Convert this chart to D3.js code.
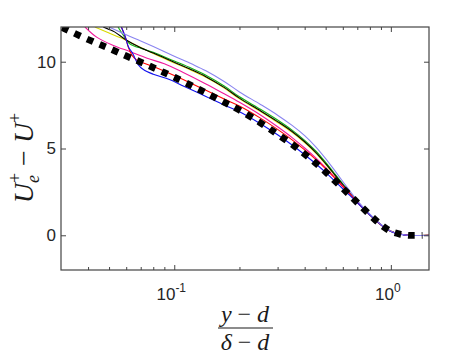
<!DOCTYPE html>
<html><head><meta charset="utf-8">
<script src="https://cdn.jsdelivr.net/npm/d3@7"></script>
<style>body{margin:0;background:#fff}</style>
</head><body>
<svg id="c" width="474" height="355"></svg>
<script>
// Reference (thick dashed) profile
const refX = [0.03,0.04,0.05,0.06,0.07,0.08,0.09,0.1,0.12,0.14,0.17,0.2,0.25,0.3,0.35,0.4,0.45,0.5,0.55,0.6,0.65,0.7,0.8,0.9,1.0,1.1,1.2,1.4];
const refY = [12.0,11.28,10.77,10.33,9.98,9.66,9.37,9.11,8.62,8.21,7.66,7.21,6.48,5.82,5.24,4.68,4.16,3.65,3.15,2.70,2.28,1.88,1.18,0.61,0.23,0.07,0.0,0.0];

const lightBlueX = [0.05,0.06,0.07,0.08,0.1,0.12,0.14,0.17,0.2,0.25,0.3,0.35,0.4,0.45,0.5,0.55,0.6,0.65,0.7,0.8,0.9,1.0,1.1,1.2,1.5];
const lightBlueY = [12.0,11.55,11.2,10.88,10.32,9.88,9.48,8.86,8.26,7.54,6.92,6.33,5.74,5.1,4.42,3.74,3.1,2.52,2.0,1.22,0.63,0.24,0.07,0.0,0.0];

const greenX = [0.055,0.058,0.062,0.066,0.07,0.08,0.1,0.12,0.14,0.17,0.2,0.25,0.3,0.35,0.4,0.45,0.5,0.55,0.6,0.65,0.7,0.8,0.9,1.0,1.1,1.2,1.5];
const greenY = [12.0,11.55,11.05,10.88,10.78,10.55,10.04,9.62,9.22,8.6,7.98,7.26,6.64,6.06,5.47,4.86,4.2,3.56,2.96,2.42,1.94,1.19,0.62,0.23,0.07,0.0,0.0];

const blackX = [0.047,0.05,0.053,0.06,0.07,0.08,0.1,0.12,0.14,0.17,0.2,0.25,0.3,0.35,0.4,0.45,0.5,0.55,0.6,0.65,0.7,0.8,0.9,1.0,1.1,1.2,1.5];
const blackY = [12.0,11.86,11.72,11.25,10.8,10.5,9.97,9.54,9.14,8.52,7.9,7.17,6.55,5.98,5.39,4.78,4.13,3.5,2.91,2.39,1.92,1.18,0.61,0.23,0.07,0.0,0.0];

const yellowX = [0.043,0.05,0.057,0.065,0.08,0.1,0.12,0.14,0.17,0.2,0.25,0.3,0.35,0.4,0.45,0.5,0.55,0.6,0.65,0.7,0.8,0.9,1.0,1.1,1.2,1.5];
const yellowY = [12.0,11.65,11.36,11.02,10.47,9.93,9.5,9.1,8.48,7.86,7.13,6.5,5.93,5.34,4.74,4.09,3.47,2.88,2.37,1.91,1.18,0.61,0.23,0.07,0.0,0.0];

const magentaX = [0.0387,0.044,0.052,0.0625,0.075,0.09,0.11,0.14,0.17,0.2,0.25,0.3,0.35,0.4,0.45,0.5,0.55,0.6,0.65,0.7,0.8,0.9,1.0,1.1,1.2,1.5];
const magentaY = [12.0,11.4,10.95,10.58,10.2,9.88,9.38,8.72,8.15,7.66,6.93,6.25,5.63,5.03,4.46,3.9,3.35,2.84,2.37,1.92,1.19,0.61,0.23,0.07,0.0,0.0];

const redX = [0.057,0.0595,0.0615,0.064,0.067,0.07,0.08,0.1,0.12,0.14,0.17,0.2,0.25,0.3,0.35,0.4,0.45,0.5,0.55,0.6,0.65,0.7,0.8,0.9,1.0,1.1,1.2,1.5];
const redY = [12.0,11.4,10.8,10.35,10.1,9.99,9.72,9.2,8.75,8.35,7.85,7.45,6.75,6.1,5.5,4.92,4.37,3.83,3.3,2.8,2.34,1.9,1.18,0.61,0.23,0.07,0.0,0.0];

const blueX = [0.057,0.0595,0.0615,0.0645,0.068,0.072,0.08,0.095,0.11,0.14,0.17,0.2,0.25,0.3,0.35,0.4,0.45,0.5,0.55,0.6,0.65,0.7,0.8,0.9,1.0,1.1,1.2,1.5];
const blueY = [12.0,11.42,10.85,10.45,9.85,9.55,9.28,8.97,8.6,8.0,7.5,7.12,6.43,5.79,5.2,4.64,4.12,3.62,3.13,2.68,2.27,1.87,1.17,0.6,0.22,0.06,0.0,0.0];

const xMajor = [0.1, 1];
const xMajorExp = ["-1", "0"];
const xMinor = [0.04,0.05,0.06,0.07,0.08,0.09,0.2,0.3,0.4,0.5,0.6,0.7,0.8,0.9];
const yTicks = [0, 5, 10];

const L = 61, R = 429, T = 27, B = 270;
const x = d3.scaleLog().domain([0.03, 1.5]).range([L, R]);
const y = d3.scaleLinear().domain([-2, 12]).range([B, T]);
const svg = d3.select("#c");
svg.append("rect").attr("width", 474).attr("height", 355).attr("fill", "#fff");

svg.append("clipPath").attr("id", "clip").append("rect")
  .attr("x", L).attr("y", T).attr("width", R - L).attr("height", B - T);

const lineThin = d3.line().x(d => x(d[0])).y(d => y(d[1])).curve(d3.curveCatmullRom.alpha(0.5));
const lineRef = d3.line().x(d => x(d[0])).y(d => y(d[1])).curve(d3.curveCatmullRom.alpha(0.5));
const zip = (a, b) => a.map((v, i) => [v, b[i]]);

const series = [
  {xs: yellowX, ys: yellowY, c: "#d9d900"},
  {xs: greenX, ys: greenY, c: "#11b511"},
  {xs: blackX, ys: blackY, c: "#000000"},
  {xs: magentaX, ys: magentaY, c: "#f0189c"},
  {xs: redX, ys: redY, c: "#ff0000"},
  {xs: blueX, ys: blueY, c: "#1010ee"},
  {xs: lightBlueX, ys: lightBlueY, c: "#8a84f0"}
];
const g = svg.append("g").attr("clip-path", "url(#clip)");
series.forEach(s => {
  g.append("path").attr("d", lineThin(zip(s.xs, s.ys)))
    .attr("fill", "none").attr("stroke", s.c).attr("stroke-width", 1.1);
});
g.append("path").attr("d", lineRef(zip(refX, refY)))
  .attr("fill", "none").attr("stroke", "#000").attr("stroke-width", 6.8)
  .attr("stroke-dasharray", "6.6,7.0").attr("stroke-dashoffset", 12.3);

// axes
const axCol = "#444";
function style(sel) {
  sel.select(".domain").remove();
  sel.selectAll("line").attr("stroke", axCol).attr("stroke-width", 1);
}
svg.append("g").attr("transform", `translate(0,${B})`)
  .call(d3.axisBottom(x).tickValues(xMajor).tickSize(-5).tickFormat("")).call(style);
svg.append("g").attr("transform", `translate(0,${B})`)
  .call(d3.axisBottom(x).tickValues(xMinor).tickSize(-3).tickFormat("")).call(style);
svg.append("g").attr("transform", `translate(0,${T})`)
  .call(d3.axisTop(x).tickValues(xMajor).tickSize(-5).tickFormat("")).call(style);
svg.append("g").attr("transform", `translate(0,${T})`)
  .call(d3.axisTop(x).tickValues(xMinor).tickSize(-3).tickFormat("")).call(style);
const yl = svg.append("g").attr("transform", `translate(${L},0)`)
  .call(d3.axisLeft(y).tickValues(yTicks).tickSize(-5).tickPadding(5).tickFormat(d3.format("d")));
yl.call(style);
yl.selectAll("text").attr("font-family", "Liberation Sans, Arial, sans-serif")
  .attr("font-size", 17).attr("fill", "#262626");
svg.append("g").attr("transform", `translate(${R},0)`)
  .call(d3.axisRight(y).tickValues(yTicks).tickSize(-5).tickFormat("")).call(style);

svg.append("rect").attr("x", L).attr("y", T).attr("width", R - L).attr("height", B - T)
  .attr("fill", "none").attr("stroke", axCol).attr("stroke-width", 1.2);

// x tick labels with superscripts
xMajor.forEach((v, i) => {
  const t = svg.append("text").attr("x", x(v) - 3).attr("y", 300)
    .attr("text-anchor", "middle").attr("font-family", "Liberation Sans, Arial, sans-serif")
    .attr("font-size", 17).attr("fill", "#262626");
  t.append("tspan").text("10");
  t.append("tspan").attr("dy", -8).attr("font-size", 12).text(xMajorExp[i]);
});

// y axis label
const ylab = svg.append("text").attr("transform", "translate(33,158) rotate(-90)")
  .attr("text-anchor", "middle").attr("font-family", "Liberation Serif, Times New Roman, serif")
  .attr("font-size", 28).attr("fill", "#1a1a1a");
ylab.append("tspan").attr("font-style", "italic").text("U");
ylab.append("tspan").attr("font-size", 18).attr("dy", -12).text("+");
ylab.append("tspan").attr("font-size", 18).attr("font-style", "italic").attr("dx", -10).attr("dy", 18).text("e");
ylab.append("tspan").attr("dy", -6).attr("dx", 2).text(" \u2212 ");
ylab.append("tspan").attr("font-style", "italic").text("U");
ylab.append("tspan").attr("font-size", 18).attr("dy", -12).text("+");

// x axis label (fraction)
const fx = 245;
const num = svg.append("text").attr("x", fx).attr("y", 322).attr("text-anchor", "middle")
  .attr("font-family", "Liberation Serif, Times New Roman, serif").attr("font-size", 24).attr("fill", "#1a1a1a");
num.append("tspan").attr("font-style", "italic").text("y");
num.append("tspan").text(" \u2212 ");
num.append("tspan").attr("font-style", "italic").text("d");
svg.append("line").attr("x1", 218).attr("x2", 273).attr("y1", 328).attr("y2", 328)
  .attr("stroke", "#1a1a1a").attr("stroke-width", 1.2);
const den = svg.append("text").attr("x", fx).attr("y", 350).attr("text-anchor", "middle")
  .attr("font-family", "Liberation Serif, Times New Roman, serif").attr("font-size", 24).attr("fill", "#1a1a1a");
den.append("tspan").attr("font-style", "italic").text("\u03b4");
den.append("tspan").text(" \u2212 ");
den.append("tspan").attr("font-style", "italic").text("d");
</script>
</body></html>
